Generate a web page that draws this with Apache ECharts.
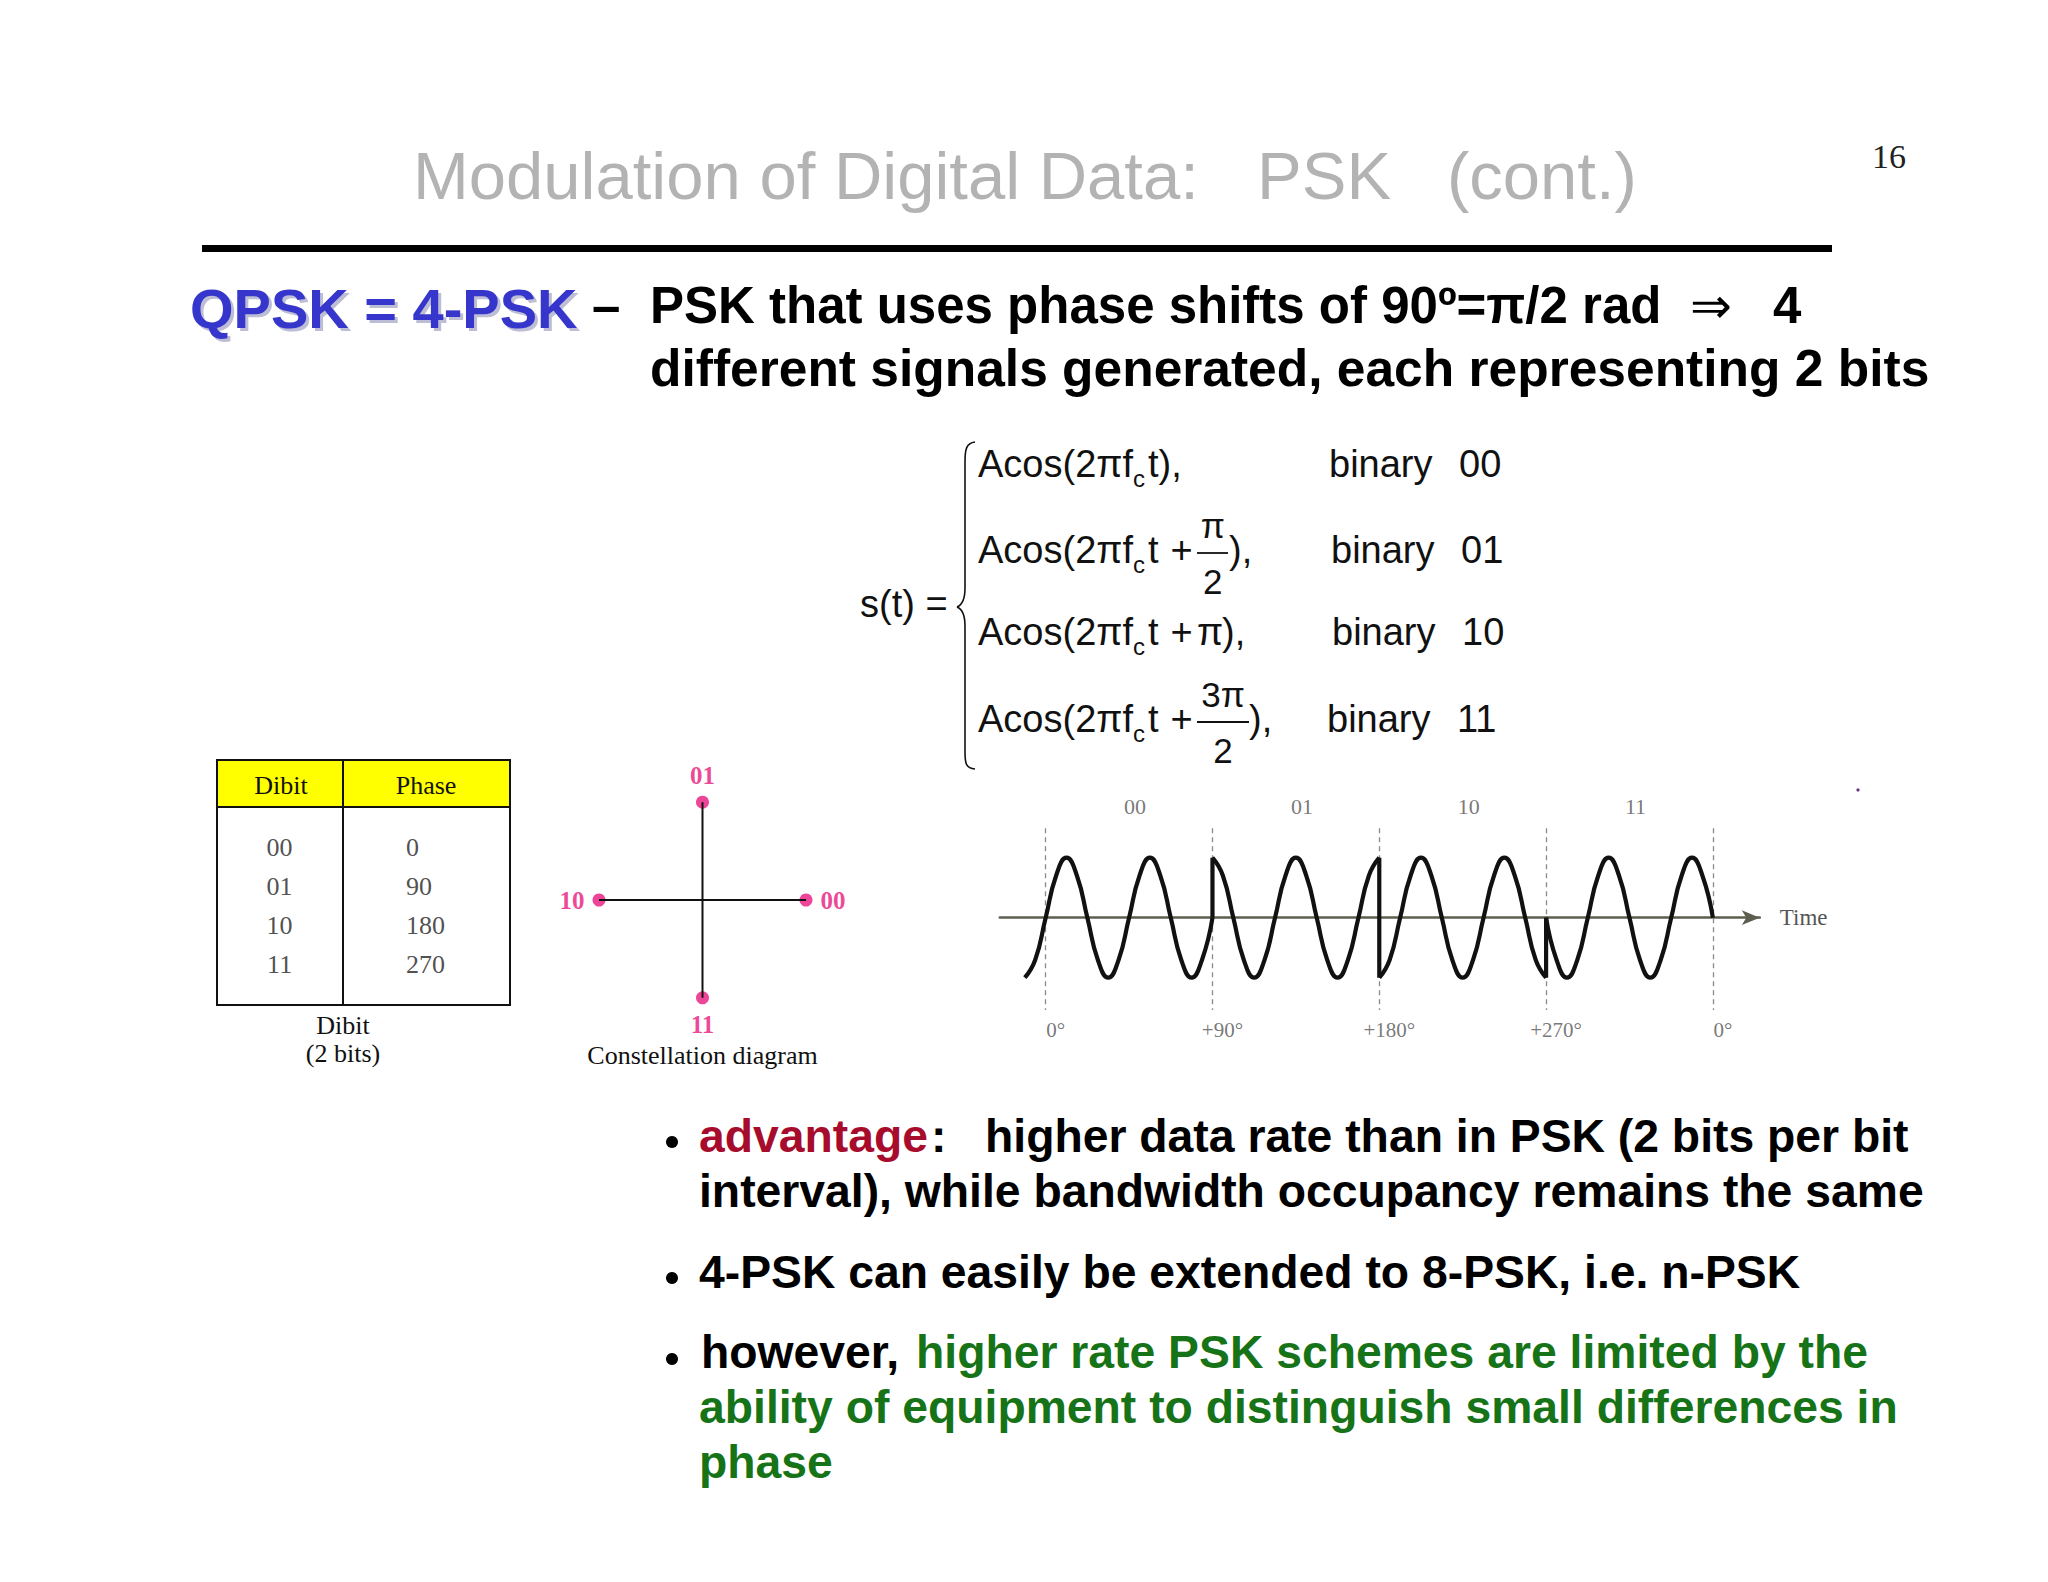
<!DOCTYPE html>
<html>
<head>
<meta charset="utf-8">
<script src="https://cdn.jsdelivr.net/npm/echarts@6/dist/echarts.min.js"></script>
<style>
html,body{margin:0;padding:0;background:#ffffff;}
#c{width:2048px;height:1582px;}
</style>
</head>
<body>
<div id="c"></div>
<script>
// ---------------- data ----------------
const dibits = ['00', '01', '10', '11'];
const phases = [0, 90, 180, 270];
const phaseTickLabels = ['0°', '+90°', '+180°', '+270°', '0°'];
// segment boundaries on the time axis, in eighth-periods... (quarter-periods of the carrier)
const segmentBounds = [0, 8, 16, 24, 32];
// waveform points (time in quarter-periods, amplitude)
const wave00 = [[-1,-1],[-0.5,-0.7],[0,0],[0.5,0.7],[1,1],[1.5,0.7],[2,0],[2.5,-0.7],[3,-1],[3.5,-0.7],
  [4,0],[4.5,0.7],[5,1],[5.5,0.7],[6,0],[6.5,-0.7],[7,-1],[7.5,-0.7],[8,0]];
const wave01 = [[8,1],[8.5,0.7],[9,0],[9.5,-0.7],[10,-1],[10.5,-0.7],[11,0],[11.5,0.7],[12,1],
  [12.5,0.7],[13,0],[13.5,-0.7],[14,-1],[14.5,-0.7],[15,0],[15.5,0.7],[16,1]];
const wave10 = [[16,-1],[16.5,-0.7],[17,0],[17.5,0.7],[18,1],[18.5,0.7],[19,0],[19.5,-0.7],[20,-1],
  [20.5,-0.7],[21,0],[21.5,0.7],[22,1],[22.5,0.7],[23,0],[23.5,-0.7],[24,-1]];
const wave11 = [[24,0],[24.5,-0.7],[25,-1],[25.5,-0.7],[26,0],[26.5,0.7],[27,1],[27.5,0.7],[28,0],
  [28.5,-0.7],[29,-1],[29.5,-0.7],[30,0],[30.5,0.7],[31,1],[31.5,0.7],[32,0]];
const phaseJumps = [[[8,0],[8,1]], [[16,1],[16,-1]], [[24,-1],[24,0]]];
// constellation points (in-phase, quadrature) for 00, 01, 10, 11
const constI = [1, 0, -1, 0];
const constQ = [0, 1, 0, -1];

// ---------------- helpers ----------------
const SANS = '"Liberation Sans", Arial, Helvetica, sans-serif';
const SERIF = '"Liberation Serif", "Times New Roman", Times, serif';
function txt(text, x, base, size, opt) {
  opt = opt || {};
  const fam = opt.serif ? SERIF : SANS;
  const weight = opt.bold ? 'bold ' : '';
  const align = opt.align || 'left';
  const y = base - (opt.serif ? 0.34 : 0.35) * size;
  return {
    type: 'text', x: x, y: y, z: 10, silent: true,
    style: {
      text: text, fill: opt.color || '#000000',
      font: weight + size + 'px ' + fam,
      textAlign: align, textVerticalAlign: 'middle'
    }
  };
}
function seg(x1, y1, x2, y2, w, color) {
  return { type: 'line', z: 10, silent: true, shape: { x1: x1, y1: y1, x2: x2, y2: y2 },
    style: { stroke: color || '#111', lineWidth: w || 1.8 } };
}
function bez(x1, y1, c1x, c1y, c2x, c2y, x2, y2, w) {
  return { type: 'bezierCurve', z: 10, silent: true,
    shape: { x1: x1, y1: y1, cpx1: c1x, cpy1: c1y, cpx2: c2x, cpy2: c2y, x2: x2, y2: y2 },
    style: { fill: null, stroke: '#111', lineWidth: w || 1.6 } };
}

const graphics = [];
// title + page number + rule
graphics.push(txt('Modulation of Digital Data:', 413, 199, 67, { color: '#b3b3b3' }));
graphics.push(txt('PSK', 1257, 199, 67, { color: '#b3b3b3' }));
graphics.push(txt('(cont.)', 1447, 199, 67, { color: '#b3b3b3' }));
graphics.push(txt('16', 1889, 168, 34, { serif: true, align: 'center', color: '#222' }));
graphics.push({ type: 'rect', z: 10, silent: true, shape: { x: 202, y: 245, width: 1630, height: 7 }, style: { fill: '#000' } });

// header statement
graphics.push(txt('QPSK = 4-PSK', 193, 331, 56, { bold: true, color: '#bdbdd6' }));
graphics.push(txt('QPSK = 4-PSK', 190, 328, 56, { bold: true, color: '#3636cc' }));
graphics.push(txt('–', 592, 323, 51, { bold: true }));
graphics.push(txt('PSK that uses phase shifts of 90º=π/2 rad', 650, 323, 51, { bold: true }));
graphics.push(txt('⇒', 1690, 323, 50, {}));
graphics.push(txt('4', 1773, 323, 51, { bold: true }));
graphics.push(txt('different signals generated, each representing 2 bits', 650, 386, 51.5, { bold: true }));

// equation s(t)
const EQ = 38, EQS = 24, FR = 35;
const rowBase = [477, 563, 645, 732];
const binX = [1329, 1331, 1332, 1327];
graphics.push(txt('s(t) =', 860, 617, EQ, { color: '#111' }));
// left brace
graphics.push(bez(975, 442, 966, 443, 965, 450, 965, 462));
graphics.push(seg(965, 462, 965, 588, 1.6));
graphics.push(bez(965, 588, 965, 600, 962, 605, 957, 607));
graphics.push(bez(957, 607, 962, 609, 965, 614, 965, 626));
graphics.push(seg(965, 626, 965, 752, 1.6));
graphics.push(bez(965, 752, 965, 764, 966, 768, 975, 769));
rowBase.forEach(function (B, i) {
  graphics.push(txt('Acos(2πf', 978, B, EQ, { color: '#111' }));
  graphics.push(txt('c', 1133, B + 10, EQS, { color: '#111' }));
  if (i === 0) {
    graphics.push(txt('t),', 1148, B, EQ, { color: '#111' }));
  } else {
    graphics.push(txt('t', 1148, B, EQ, { color: '#111' }));
    graphics.push(txt('+', 1181.5, B, EQ, { color: '#111', align: 'center' }));
  }
  if (i === 1) {
    graphics.push(txt('π', 1212.8, B - 25, FR, { color: '#111', align: 'center' }));
    graphics.push(seg(1197, B - 10, 1228, B - 10, 1.8));
    graphics.push(txt('2', 1212.8, B + 31, FR, { color: '#111', align: 'center' }));
    graphics.push(txt('),', 1229, B, EQ, { color: '#111' }));
  } else if (i === 2) {
    graphics.push(txt('π', 1197, B, EQ, { color: '#111' }));
    graphics.push(txt('),', 1222, B, EQ, { color: '#111' }));
  } else if (i === 3) {
    graphics.push(txt('3π', 1223, B - 25, FR, { color: '#111', align: 'center' }));
    graphics.push(seg(1197, B - 10, 1249, B - 10, 1.8));
    graphics.push(txt('2', 1223, B + 31, FR, { color: '#111', align: 'center' }));
    graphics.push(txt('),', 1249, B, EQ, { color: '#111' }));
  }
  graphics.push(txt('binary', binX[i], B, EQ, { color: '#111' }));
  graphics.push(txt(dibits[i], binX[i] + 130, B, EQ, { color: '#111' }));
});

// table frame
graphics.push({ type: 'rect', z: 1, silent: true, shape: { x: 217, y: 760, width: 293, height: 47 }, style: { fill: '#ffff00', stroke: '#111', lineWidth: 2 } });
graphics.push({ type: 'rect', z: 1, silent: true, shape: { x: 217, y: 807, width: 293, height: 198 }, style: { fill: 'none', stroke: '#111', lineWidth: 2 } });
graphics.push({ type: 'line', z: 1, silent: true, shape: { x1: 343, y1: 760, x2: 343, y2: 1005 }, style: { stroke: '#111', lineWidth: 2 } });
graphics.push(txt('Dibit', 281, 794, 26, { serif: true, align: 'center', color: '#111' }));
graphics.push(txt('Phase', 426, 794, 26, { serif: true, align: 'center', color: '#111' }));
graphics.push(txt('Dibit', 343, 1034, 26, { serif: true, align: 'center', color: '#111' }));
graphics.push(txt('(2 bits)', 343, 1062, 26, { serif: true, align: 'center', color: '#111' }));
graphics.push(txt('Constellation diagram', 702.5, 1064, 26, { serif: true, align: 'center', color: '#111' }));

// bullets
[1142, 1278, 1359].forEach(function (cy) {
  graphics.push({ type: 'circle', z: 10, silent: true, shape: { cx: 672, cy: cy, r: 6 }, style: { fill: '#000' } });
});
const RED = '#a80c2c', GREEN = '#177317', BF = 46.3;
graphics.push(txt('advantage', 699, 1152, BF, { bold: true, color: RED }));
graphics.push(txt(':', 931, 1152, BF, { bold: true }));
graphics.push(txt('higher data rate than in PSK (2 bits per bit', 985, 1152, BF, { bold: true }));
graphics.push(txt('interval), while bandwidth occupancy remains the same', 699, 1207, BF, { bold: true }));
graphics.push(txt('4-PSK can easily be extended to 8-PSK, i.e. n-PSK', 699, 1288, BF, { bold: true }));
graphics.push(txt('however,', 701, 1368, BF, { bold: true }));
graphics.push(txt('higher rate PSK schemes are limited by the', 916, 1368, BF, { bold: true, color: GREEN }));
graphics.push(txt('ability of equipment to distinguish small differences in', 699, 1423, BF, { bold: true, color: GREEN }));
graphics.push(txt('phase', 699, 1478, BF, { bold: true, color: GREEN }));
graphics.push({ type: 'circle', z: 10, silent: true, shape: { cx: 1858, cy: 790, r: 1.6 }, style: { fill: '#663388' } });

// ---------------- chart ----------------
const waveBase = {
  type: 'line', xAxisIndex: 0, yAxisIndex: 0, smooth: 0.5, symbol: 'none',
  lineStyle: { color: '#111111', width: 4.2 }, silent: true, clip: false, z: 5
};
const labelHidden = { color: 'rgba(0,0,0,0)' };

const series = [
  Object.assign({}, waveBase, {
    name: 'dibit 00', data: wave00,
    markLine: {
      silent: true, symbol: ['none', 'none'], label: { show: false },
      lineStyle: { type: [5, 4], color: '#8a8a8a', width: 1.3 },
      data: segmentBounds.map(function (b) { return [{ coord: [b, 1.49] }, { coord: [b, -1.54] }]; })
    }
  }),
  Object.assign({}, waveBase, { name: 'dibit 01', data: wave01 }),
  Object.assign({}, waveBase, { name: 'dibit 10', data: wave10 }),
  Object.assign({}, waveBase, { name: 'dibit 11', data: wave11 })
];
phaseJumps.forEach(function (j) {
  series.push(Object.assign({}, waveBase, { smooth: false, data: j }));
});
// segment labels above the waveform
series.push({
  type: 'scatter', xAxisIndex: 0, yAxisIndex: 0, symbolSize: 1, itemStyle: labelHidden, silent: true,
  data: dibits.map(function (d, i) { return [(segmentBounds[i] + segmentBounds[i + 1]) / 2, 1.86, d]; }),
  label: { show: true, position: 'inside', offset: [6, 0], formatter: function (p) { return p.data[2]; },
    fontFamily: SERIF, fontSize: 22, color: '#555555' }
});
// phase labels below the waveform
series.push({
  type: 'scatter', xAxisIndex: 0, yAxisIndex: 0, symbolSize: 1, itemStyle: labelHidden, silent: true,
  data: phaseTickLabels.map(function (t, i) { return [segmentBounds[i], -1.87, t]; }),
  label: { show: true, position: 'inside', offset: [10, 0], formatter: function (p) { return p.data[2]; },
    fontFamily: SERIF, fontSize: 21, color: '#555555' }
});
// constellation cross
series.push({ type: 'line', xAxisIndex: 1, yAxisIndex: 1, symbol: 'none', silent: true,
  data: [[constI[2], constQ[2]], [constI[0], constQ[0]]], lineStyle: { color: '#111', width: 2 } });
series.push({ type: 'line', xAxisIndex: 1, yAxisIndex: 1, symbol: 'none', silent: true,
  data: [[constI[1], constQ[1]], [constI[3], constQ[3]]], lineStyle: { color: '#111', width: 2 } });
series.push({
  type: 'scatter', xAxisIndex: 1, yAxisIndex: 1, symbolSize: 13, silent: true,
  itemStyle: { color: '#e8177d' },
  data: constI.map(function (x, i) {
    const y = constQ[i];
    const pos = x > 0 ? 'right' : (x < 0 ? 'left' : (y > 0 ? 'top' : 'bottom'));
    return { name: dibits[i], value: [x, y], label: { position: pos } };
  }),
  label: { show: true, formatter: '{b}', fontFamily: SERIF, fontWeight: 'bold', fontSize: 25, color: '#e8177d', distance: 8 }
});
// table contents
series.push({
  type: 'scatter', xAxisIndex: 2, yAxisIndex: 2, symbolSize: 1, itemStyle: labelHidden, silent: true,
  data: dibits.map(function (d) { return [0.2137, d]; }),
  label: { show: true, position: 'inside', formatter: function (p) { return p.data[1]; },
    fontFamily: SERIF, fontSize: 26, color: '#222' }
});
series.push({
  type: 'scatter', xAxisIndex: 2, yAxisIndex: 2, symbolSize: 1, itemStyle: labelHidden, silent: true,
  data: phases.map(function (p, i) { return [0.645, dibits[i], p]; }),
  label: { show: true, position: 'inside', align: 'left', formatter: function (p) { return String(p.data[2]); },
    fontFamily: SERIF, fontSize: 26, color: '#222' }
});

const option = {
  backgroundColor: '#ffffff',
  animation: false,
  grid: [
    { left: 999.8, top: 797.7, width: 760, height: 240 },
    { left: 599, top: 802.2, width: 207, height: 195.6 },
    { left: 217, top: 827.7, width: 293, height: 156.9 }
  ],
  xAxis: [
    { gridIndex: 0, type: 'value', min: -2.2, max: 34.25,
      axisLine: { show: true, onZero: true, symbol: ['none', 'arrow'], symbolSize: [11, 18],
        lineStyle: { color: '#5e5e50', width: 2.5 } },
      axisTick: { show: false }, axisLabel: { show: false }, splitLine: { show: false },
      name: 'Time', nameLocation: 'end', nameGap: 20,
      nameTextStyle: { fontFamily: SERIF, fontSize: 23, color: '#555555', align: 'left', verticalAlign: 'middle' } },
    { gridIndex: 1, type: 'value', min: -1, max: 1, show: false },
    { gridIndex: 2, type: 'value', min: 0, max: 1, show: false }
  ],
  yAxis: [
    { gridIndex: 0, type: 'value', min: -2, max: 2, show: false },
    { gridIndex: 1, type: 'value', min: -1, max: 1, show: false },
    { gridIndex: 2, type: 'category', data: dibits, inverse: true, show: false }
  ],
  series: series,
  graphic: { elements: graphics }
};

const chart = echarts.init(document.getElementById('c'), null, { renderer: 'svg', width: 2048, height: 1582 });
chart.setOption(option);
</script>
</body>
</html>
